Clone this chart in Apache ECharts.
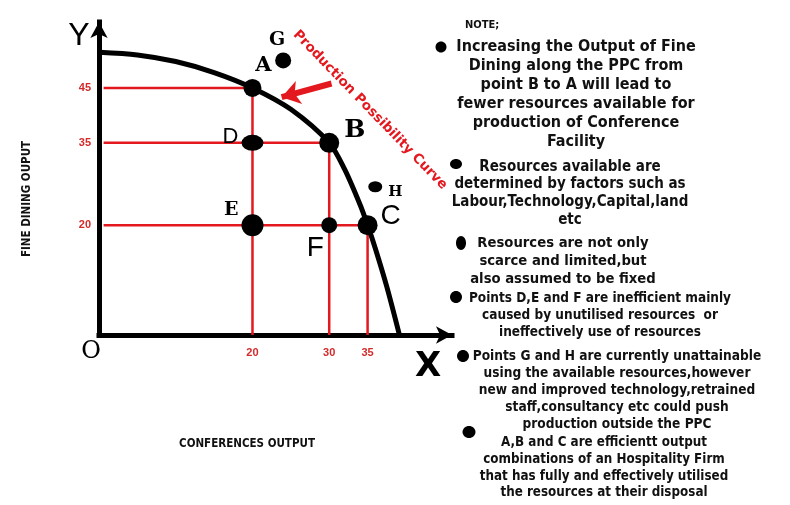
<!DOCTYPE html>
<html><head><meta charset="utf-8">
<script src="https://cdn.jsdelivr.net/npm/echarts@6/dist/echarts.min.js"></script>
<style>html,body{margin:0;padding:0;background:#fff}#c{width:790px;height:505px}</style>
</head><body><div id="c"></div>
<script>
// ---- data ----
const curveX = [0, 5, 10, 15, 20, 25, 30, 32, 34, 35, 36, 37.5, 39.15];
const curveY = [51.5, 51, 49.8, 47.8, 45, 41.1, 35, 30.2, 23.8, 20, 15.8, 8.8, 0];
const pointNames = ['A', 'B', 'C', 'D', 'E', 'F', 'G', 'H'];
const pointX = [20, 30, 35, 20, 20, 30, 24, 36];
const pointY = [45, 35, 20, 35, 20, 20, 50, 27];
const efficientPoints = ['A', 'B', 'C'];
const xTickLabels = [20, 30, 35];
const yTickLabels = [20, 35, 45];
const xAxisTitle = 'CONFERENCES OUTPUT';
const yAxisTitle = 'FINE DINING OUPUT';
const curveTitle = 'Production Possibility Curve';
const noteHeading = 'NOTE;';
const noteBlocks = [
  'Increasing the Output of Fine\nDining along the PPC from\npoint B to A will lead to\nfewer resources available for\nproduction of Conference\nFacility',
  'Resources available are\ndetermined by factors such as\nLabour,Technology,Capital,land\netc',
  'Resources are not only\nscarce and limited,but\nalso assumed to be fixed',
  'Points D,E and F are inefficient mainly\ncaused by unutilised resources  or\nineffectively use of resources',
  'Points G and H are currently unattainable\nusing the available resources,however\nnew and improved technology,retrained\nstaff,consultancy etc could push\nproduction outside the PPC',
  'A,B and C are efficientt output\ncombinations of an Hospitality Firm\nthat has fully and effectively utilised\nthe resources at their disposal'
];

// ---- styles ----
const RED = '#e3191f';
const SANS = '"DejaVu Sans Condensed", "DejaVu Sans", sans-serif';
const SERIF = '"DejaVu Serif", "Liberation Serif", serif';
const LABEL_SANS = '"Liberation Sans", Arial, sans-serif';

const pointStyle = {
  A: { size: 18, pos: 'top', off: [11, 0], ff: SERIF, fs: 21, fw: 'bold' },
  B: { size: 20, pos: 'right', off: [2, -12], ff: SERIF, fs: 25, fw: 'bold' },
  C: { size: 20, pos: 'right', off: [0, -9], ff: LABEL_SANS, fs: 28, fw: 'normal' },
  D: { size: [22, 16], pos: 'left', off: [0, -6], ff: LABEL_SANS, fs: 22, fw: 'normal' },
  E: { size: 22, pos: 'left', off: [0, -15], ff: SERIF, fs: 19, fw: 'bold' },
  F: { size: 16, pos: 'bottom', off: [-14, -2], ff: LABEL_SANS, fs: 28, fw: 'normal' },
  G: { size: 16, pos: 'top', off: [-6, 0], ff: SERIF, fs: 19, fw: 'bold' },
  H: { size: [14, 11], pos: 'right', off: [3, 5], ff: SERIF, fs: 15, fw: 'bold' }
};

const noteLayout = [
  { cx: 576, top: 37.5, fs: 16, lh: 19 },
  { cx: 570, top: 158, fs: 15, lh: 17.7 },
  { cx: 563, top: 234, fs: 14.7, lh: 18 },
  { cx: 600, top: 289.5, fs: 13.5, lh: 17 },
  { cx: 617, top: 347.5, fs: 13.6, lh: 17 },
  { cx: 604, top: 434.5, fs: 13.3, lh: 16.7 }
];
const bullets = [
  { x: 441, y: 47, rx: 5.5, ry: 5.5 },
  { x: 456, y: 164, rx: 6, ry: 5 },
  { x: 461, y: 243, rx: 5, ry: 7 },
  { x: 456, y: 297, rx: 6, ry: 6 },
  { x: 463, y: 356, rx: 6, ry: 6 },
  { x: 469, y: 432, rx: 6.5, ry: 6 }
];

// ---- build ----
const curveData = curveX.map((x, i) => [x, curveY[i]]);
const scatterData = pointNames.map((n, i) => {
  const s = pointStyle[n];
  return {
    name: n,
    value: [pointX[i], pointY[i]],
    symbolSize: s.size,
    label: {
      show: true, formatter: n, position: s.pos, offset: s.off, distance: 3,
      fontFamily: s.ff, fontSize: s.fs, color: '#000', fontWeight: s.fw
    }
  };
});
const guideSeries = efficientPoints.map(n => {
  const i = pointNames.indexOf(n);
  return {
    type: 'line', z: 2, silent: true, symbol: 'none',
    lineStyle: { color: RED, width: 2.5 },
    data: [[0.6, pointY[i]], [pointX[i], pointY[i]], [pointX[i], 0]]
  };
});

const graphics = [];
noteBlocks.forEach((t, i) => {
  const L = noteLayout[i];
  graphics.push({
    type: 'text', silent: true,
    style: { text: t, x: L.cx, y: L.top, textAlign: 'center', textVerticalAlign: 'top',
      fontFamily: SANS, fontWeight: 'bold', fontSize: L.fs, lineHeight: L.lh, fill: '#111' }
  });
});
bullets.forEach(b => graphics.push({
  type: 'ellipse', silent: true, shape: { cx: b.x, cy: b.y, rx: b.rx, ry: b.ry }, style: { fill: '#000' }
}));
graphics.push(
  { type: 'text', silent: true, style: { text: noteHeading, x: 465, y: 25, textVerticalAlign: 'middle',
      fontFamily: SANS, fontWeight: 'bold', fontSize: 11, fill: '#111' } },
  { type: 'text', silent: true, style: { text: xAxisTitle, x: 247, y: 444, textAlign: 'center', textVerticalAlign: 'middle',
      fontFamily: SANS, fontWeight: 'bold', fontSize: 11.5, fill: '#111' } },
  { type: 'text', silent: true, x: 27, y: 199, rotation: Math.PI / 2,
    style: { text: yAxisTitle, x: 0, y: 0, textAlign: 'center', textVerticalAlign: 'middle',
      fontFamily: SANS, fontWeight: 'bold', fontSize: 11.5, fill: '#111' } },
  { type: 'text', silent: true, x: 370, y: 110, rotation: -46 * Math.PI / 180,
    style: { text: curveTitle, x: 0, y: 0, textAlign: 'center', textVerticalAlign: 'middle',
      fontFamily: '"DejaVu Sans", sans-serif', fontWeight: 'bold', fontSize: 13.5, fill: RED } },
  { type: 'text', silent: true, style: { text: 'Y', x: 79, y: 36, textAlign: 'center', textVerticalAlign: 'middle',
      fontFamily: LABEL_SANS, fontSize: 32, fill: '#000' } },
  { type: 'text', silent: true, style: { text: 'O', x: 91, y: 352, textAlign: 'center', textVerticalAlign: 'middle',
      fontFamily: SERIF, fontSize: 24, fill: '#000' } },
  { type: 'text', silent: true, style: { text: 'X', x: 428, y: 367, textAlign: 'center', textVerticalAlign: 'middle',
      fontFamily: '"DejaVu Sans", sans-serif', fontWeight: 'bold', fontSize: 34, fill: '#000' } }
);

const axisCommon = {
  type: 'value', min: 0, interval: 5,
  splitLine: { show: false }, axisTick: { show: false },
  axisLine: { show: true, onZero: false, symbol: ['none', 'arrow'], symbolSize: [13, 16],
    lineStyle: { color: '#000', width: 5, cap: 'square' } }
};

const option = {
  animation: false,
  backgroundColor: '#fff',
  grid: { left: 99, top: 22, right: 338, bottom: 170, containLabel: false },
  xAxis: Object.assign({}, axisCommon, {
    max: 46,
    axisLabel: { margin: 12, color: '#d42a2a', fontWeight: 'bold', fontSize: 11, fontFamily: LABEL_SANS,
      formatter: v => xTickLabels.includes(v) ? String(v) : '' }
  }),
  yAxis: Object.assign({}, axisCommon, {
    max: 57,
    axisLabel: { margin: 8, color: '#d42a2a', fontWeight: 'bold', fontSize: 11, fontFamily: LABEL_SANS,
      formatter: v => yTickLabels.includes(v) ? String(v) : '' }
  }),
  series: guideSeries.concat([
    {
      type: 'line', z: 3, silent: true, symbol: 'none', smooth: 0.3,
      lineStyle: { color: '#000', width: 5 },
      data: curveData,
      markLine: {
        silent: true, symbol: ['none', 'arrow'], symbolSize: 18,
        lineStyle: { color: RED, width: 6, type: 'solid', opacity: 1 }, label: { show: false },
        data: [[{ coord: [30.3, 45.8] }, { coord: [23.8, 43.3] }]]
      }
    },
    {
      type: 'scatter', z: 4, silent: true,
      itemStyle: { color: '#000', opacity: 1 },
      data: scatterData
    }
  ]),
  graphic: graphics
};
const chart = echarts.init(document.getElementById('c'), null, { renderer: 'canvas' });
chart.setOption(option);
</script></body></html>
